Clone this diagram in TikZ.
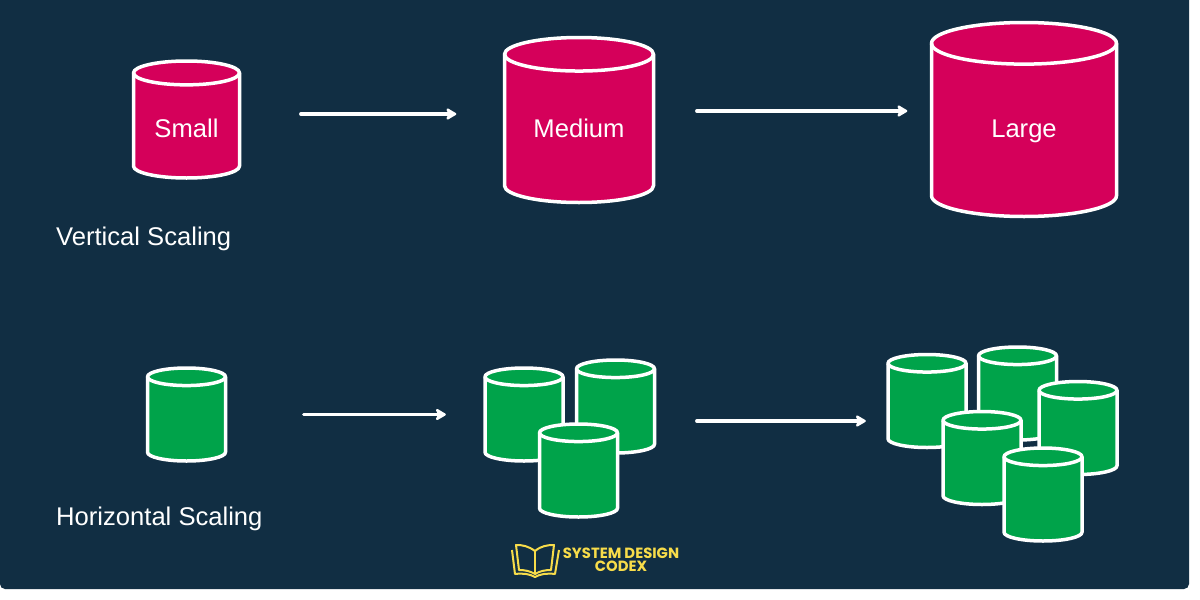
\documentclass[tikz,border=0pt]{standalone}
\usepackage{fontspec}
\setmainfont{Liberation Sans}
\newfontfamily\logofont[BoldFont=Poppins Bold]{Poppins}
\usepackage{tikz}
\usetikzlibrary{arrows.meta}
\definecolor{navy}{HTML}{112E43}
\definecolor{crimson}{HTML}{D5005A}
\definecolor{leaf}{HTML}{00A34A}
\definecolor{gold}{HTML}{F7DC4A}
\tikzset{
	dbshape/.style={draw=white, line width=3.5pt, line join=round},
	flow/.style={draw=white, line width=3.2pt, line cap=round, -{Stealth[length=12pt,width=14pt,inset=3pt,round]}},
	dbtext/.style={inner sep=0pt, text=white, font=\fontsize{25.6}{26}\selectfont},
	caption/.style={dbtext, anchor=base west},
	bookline/.style={draw=gold, line width=2pt, line join=round}
}
% name, x, y, width, height, colour
\newcommand{\dbnode}[6]{
	\pgfmathsetmacro{\rx}{#4/2}
	\pgfmathsetmacro{\ry}{0.225*\rx}
	\pgfmathsetmacro{\hh}{#5/2}
	\begin{scope}[shift={(#2,#3)}]
		\filldraw[dbshape, fill=#6] (-\rx,-\hh+\ry) arc[start angle=180, end angle=0, x radius=\rx pt, y radius=\ry pt]
			-- (\rx,\hh-\ry) arc[start angle=0, end angle=-180, x radius=\rx pt, y radius=\ry pt] -- cycle;
		\draw[dbshape] (-\rx,-\hh+\ry) arc[start angle=180, end angle=360, x radius=\rx pt, y radius=\ry pt];
	\end{scope}
	\node[minimum width=#4pt, minimum height=#5pt, inner sep=0pt] (#1) at (#2,#3) {};
}
\begin{document}
\begin{tikzpicture}[x=1pt,y=-1pt]
	\useasboundingbox (0,0) rectangle (1200,600);
	\fill[white] (0,0) rectangle (1200,600);
	\fill[navy, rounded corners=5pt] (0,-10) rectangle (1189,589);
	\dbnode{small}{186.5}{119.5}{106}{117}{crimson}
	\dbnode{medium}{579}{120}{149}{165}{crimson}
	\dbnode{large}{1024}{119.5}{185}{194}{crimson}
	\node[dbtext] (smalltext) at (186.5,128) {Small};
	\node[dbtext] (mediumtext) at (579,128) {Medium};
	\node[dbtext] (largetext) at (1024,131) {Large};
	\node[caption] (vlabel) at (56,245) {Vertical Scaling};
	\dbnode{single}{186.5}{414.5}{78}{93}{leaf}
	\dbnode{twoa}{524}{414.5}{78}{93}{leaf}
	\dbnode{twob}{615.5}{406.5}{78}{93}{leaf}
	\dbnode{twoc}{578.5}{470.5}{78}{93}{leaf}
	\dbnode{fivea}{927}{401}{78}{93}{leaf}
	\dbnode{fiveb}{1017.5}{393.5}{78}{93}{leaf}
	\dbnode{fivec}{1078}{428}{78}{93}{leaf}
	\dbnode{fived}{982}{458}{78}{93}{leaf}
	\dbnode{fivee}{1043}{494.5}{78}{93}{leaf}
	\node[caption] (hlabel) at (56,525) {Horizontal Scaling};
	\draw[flow, shorten <=61pt, shorten >=48pt] ([yshift=5.5pt]small.east) -- ([yshift=6pt]medium.west);
	\draw[flow, shorten <=43pt, shorten >=24pt] ([yshift=9pt]medium.east) -- ([yshift=8.5pt]large.west);
	\draw[flow, shorten <=78pt, shorten >=39pt] (single.east) -- (twoa.west);
	\draw[flow, shorten <=42pt, shorten >=22pt] ([yshift=-14.5pt]twob.east) -- ([yshift=-20pt]fivea.west);
	\node[text=gold, font=\logofont\bfseries\fontsize{14.8}{13}\selectfont, align=center, inner sep=0pt] (logo) at (621,559.5) {SYSTEM DESIGN\\CODEX};
	\draw[bookline] (535,551) .. controls (528,546) and (523,545) .. (516,545) -- (519,570) .. controls (525,570) and (530,571) .. (535,574) .. controls (540,571) and (545,570) .. (551,570) -- (554,545) .. controls (547,545) and (541,546) .. (535,551) -- cycle;
	\draw[bookline] (535,551) -- (535,574);
	\draw[bookline] (512,550) -- (515,574) .. controls (523,573) and (530,574) .. (535,577) .. controls (540,574) and (547,573) .. (555,574) -- (559,550);
\end{tikzpicture}
\end{document}
